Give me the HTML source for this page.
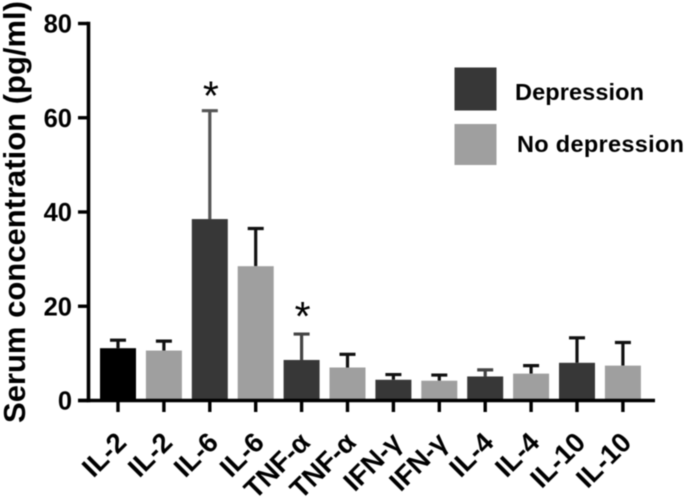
<!DOCTYPE html>
<html lang="en">
<head>
<meta charset="utf-8">
<title>Serum concentration chart</title>
<style>
html,body{margin:0;padding:0;background:#fff;width:685px;height:500px;overflow:hidden}
svg{display:block;filter:blur(0.45px)}
text{font-family:"Liberation Sans",sans-serif;fill:#000}
.b{font-weight:700}
</style>
</head>
<body>
<svg id="chart" xmlns="http://www.w3.org/2000/svg" width="685" height="500" viewBox="0 0 685 500">
  <rect x="0" y="0" width="685" height="500" fill="#fff"/>
  <g id="marks"></g>
  <g id="axes"></g>
  <text class="b" transform="translate(25,212) rotate(-90)" text-anchor="middle" font-size="31">Serum concentration (pg/ml)</text>
  <g>
    <rect x="454.5" y="67.5" width="42" height="43" fill="#373737"/>
    <text x="515" y="100" font-size="23.5" font-weight="700" textLength="129" lengthAdjust="spacing">Depression</text>
    <rect x="454.5" y="124" width="42" height="41" fill="#9f9f9f"/>
    <text x="517" y="152" font-size="23.5" font-weight="700" textLength="167" lengthAdjust="spacing">No depression</text>
  </g>
</svg>
<script>
const categories = ["IL-2","IL-2","IL-6","IL-6","TNF-α","TNF-α","IFN-γ","IFN-γ","IL-4","IL-4","IL-10","IL-10"];
const barValues = [11.1,10.6,38.5,28.5,8.6,7.0,4.4,4.2,5.1,5.7,8.0,7.4];
const errorTops = [12.8,12.6,61.5,36.5,14.1,9.8,5.5,5.4,6.5,7.4,13.3,12.3];
const barColors = ["#000000","#9f9f9f","#373737","#9f9f9f","#373737","#9f9f9f","#373737","#9f9f9f","#373737","#9f9f9f","#373737","#9f9f9f"];
const errorColors = ["#111111","#111111","#555555","#111111","#444444","#111111","#111111","#111111","#444444","#111111","#111111","#111111"];
const starLevels = [null,null,66.6,null,19.8,null,null,null,null,null,null,null];
const yTicks = [0,20,40,60,80];

const NS = "http://www.w3.org/2000/svg";
const yScale = v => 400.5 - v * (377 / 80);
const xScale = i => 118 + i * 45.9;
const BAR_W = 36;
const marks = document.getElementById("marks");
const axes = document.getElementById("axes");

function make(tag, attrs, parent) {
  const el = document.createElementNS(NS, tag);
  for (const k in attrs) el.setAttribute(k, attrs[k]);
  parent.appendChild(el);
  return el;
}

categories.forEach((cat, i) => {
  const cx = xScale(i);
  const top = yScale(barValues[i]);
  const errTop = yScale(errorTops[i]);

  const stem = make("line", {x1: cx, x2: cx, y1: top, y2: errTop, stroke: errorColors[i], "stroke-width": 3.2}, marks);
  
  

  const cap = make("line", {x1: cx - 8, x2: cx + 8, y1: errTop, y2: errTop, stroke: errorColors[i], "stroke-width": 3.2}, marks);
  
  

  const bar = make("rect", {x: cx - BAR_W / 2, y: top, width: BAR_W, height: yScale(0) - top, fill: barColors[i]}, marks);
  
  

  if (starLevels[i] !== null) {
    const star = make("text", {x: cx + 1, y: yScale(starLevels[i]) + 23, "text-anchor": "middle", "font-size": 41}, marks);
    
    
    star.textContent = "*";
  }

  const tick = make("line", {x1: cx, x2: cx, y1: 400, y2: 412, stroke: "#000", "stroke-width": 3.4}, axes);
  
  

  const label = make("text", {transform: "translate(" + (cx + 10) + ",444) rotate(-45)", "text-anchor": "end", "font-size": 27.5, "font-weight": 700}, axes);
  
  
  label.textContent = cat;
});

const yAxisLine = make("line", {x1: 88.5, x2: 88.5, y1: yScale(80) - 1.7, y2: yScale(0) + 1.7, stroke: "#000", "stroke-width": 3.6}, axes);



const xAxisLine = make("line", {x1: 78, x2: 655, y1: yScale(0), y2: yScale(0), stroke: "#000", "stroke-width": 3.4}, axes);



yTicks.forEach(v => {
  const y = yScale(v);
  const tick = make("line", {x1: 78, x2: 88, y1: y, y2: y, stroke: "#000", "stroke-width": 3.4}, axes);
  
  

  const label = make("text", {x: 72, y: y + 9, "text-anchor": "end", "font-size": 25.5, "font-weight": 700}, axes);
  
  
  label.textContent = v;
});
</script>
</body>
</html>
